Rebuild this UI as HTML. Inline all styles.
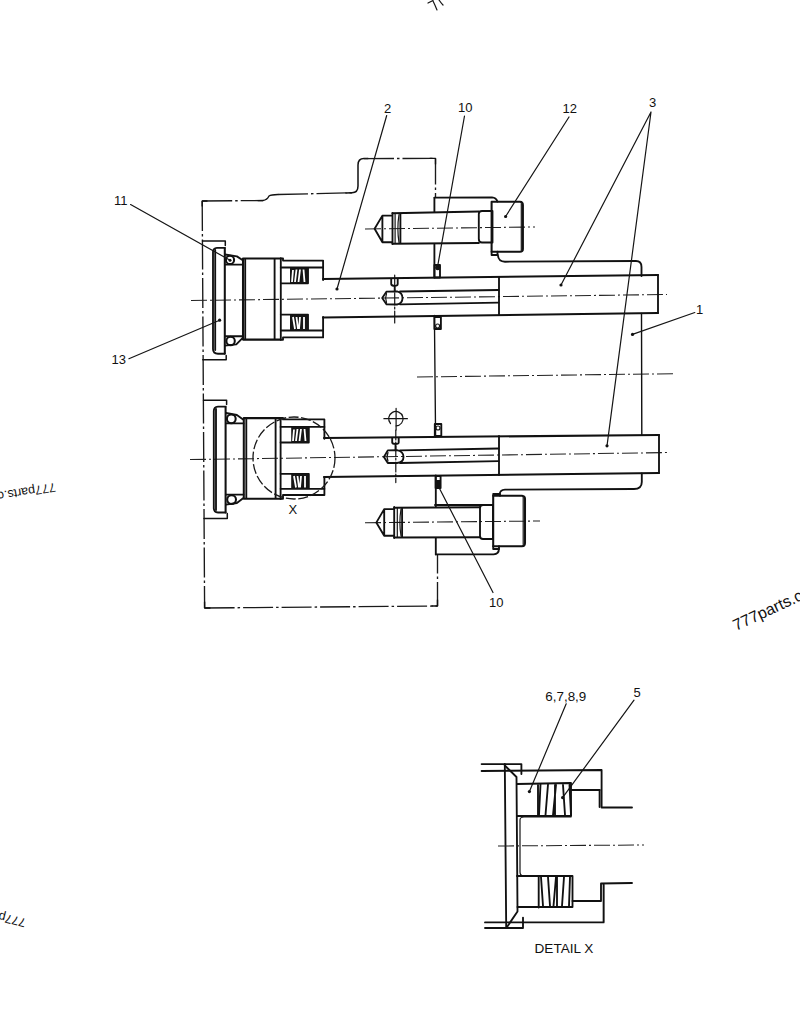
<!DOCTYPE html>
<html><head><meta charset="utf-8">
<style>
html,body{margin:0;padding:0;background:#fff;width:800px;height:1035px;overflow:hidden}
svg{display:block;position:absolute;left:0;top:0}
text{font-family:"Liberation Sans",sans-serif;fill:#111}
.l{fill:none;stroke:#111;stroke-width:1.85;stroke-linejoin:round;stroke-linecap:round}
.t{fill:none;stroke:#151515;stroke-width:1.2;stroke-linecap:round}
.h{fill:none;stroke:#111;stroke-width:2.05;stroke-linejoin:round;stroke-linecap:round}
.c{fill:none;stroke:#222;stroke-width:1.05;stroke-dasharray:16 3 2 3}
.d{fill:none;stroke:#1a1a1a;stroke-width:1.35;stroke-dasharray:30 3 2.5 3}
.dash{fill:none;stroke:#1a1a1a;stroke-width:1.3;stroke-dasharray:10 2.5}
.lb{font-size:13px}
</style></head>
<body>
<svg width="800" height="1035" viewBox="0 0 800 1035">
<!-- watermarks -->
<g id="wm">
<path class="t" d="M428,3 L433,0.5 M433,1 Q435,5 437,10 M439,0 Q441,3 443,5"/>
<text x="0" y="0" font-size="12.5" transform="translate(55,483) rotate(171)">777parts.com</text>
<text x="0" y="0" font-size="16" transform="translate(736,631) rotate(-25)">777parts.com</text>
<text x="0" y="0" font-size="12.5" transform="translate(26.5,919) rotate(194)">777parts.com</text>
</g>

<!-- housing outline dash-dot -->
<path class="d" d="M202.2,201 L204.6,608"/>
<path class="d" d="M202.2,201 L263,200.5"/>
<path class="l" style="stroke-width:1.4" d="M202.2,206 L202.2,201 L207,201 M258,200.6 L263,200.5 Q267,200 269,196 Q271,194.6 278,194.5"/>
<path class="d" d="M278,194.5 L352,192.8"/>
<path class="l" style="stroke-width:1.5" d="M346,193 L352,192.8 Q358,192.6 358,186 L358,165 Q358,158.6 364,158.6 L368,158.6"/>
<path class="d" d="M364,158.6 L435.5,158.4"/>
<path class="d" d="M435.5,158.4 L435.5,197" style="stroke-dasharray:26 3 2.5 3"/>
<path class="l" style="stroke-width:1.4" d="M430,158.4 L435.5,158.4 L435.5,164"/>
<path class="d" d="M204.6,608 L437.5,606"/>
<path class="d" d="M437.5,606 L437.5,555" style="stroke-dasharray:24 3 2.5 3"/>
<path class="l" style="stroke-width:1.4" d="M204.6,602 L204.6,608 L210,608 M432,606 L437.5,606 L437.5,600"/>
<!-- brackets -->
<path class="l" style="stroke-width:1.5" d="M202.5,241.1 L225.3,241.1 L225.3,245.5 M202.8,359.8 L226.2,359.8 L226.2,355.6"/>
<path class="l" style="stroke-width:1.5" d="M203.5,400.3 L226.6,400.3 L226.6,404.4 M204,518.4 L227.3,518.4 L227.3,513.5"/>

<!-- center lines -->
<path class="c" d="M191,300.5 L667,294.5"/>
<path class="c" d="M190,459.6 L670,452.5"/>
<path class="c" d="M417,377 L673,373.7"/>
<path class="c" d="M365,229 L535,227"/>
<path class="c" d="M365,522.8 L540,521"/>
<path class="t" d="M394.7,275 L394.7,323.8" stroke-dasharray="12 2 2 2"/>
<path class="t" d="M395.8,430 L395.8,482.6" stroke-dasharray="10 2 2 2"/>

<!-- ===== UPPER ASSEMBLY ===== -->
<path class="h" d="M224.8,248 L224.8,353.6"/>
<path class="l" d="M224.8,247.8 L217,247.8 Q213,248 213,252 L213,349 Q213,353.7 218,353.7 L224.8,353.7"/>
<path class="l" d="M215.2,250 L215.2,350"/>
<circle class="h" cx="230" cy="259.9" r="4.1"/>
<circle cx="230" cy="260.2" r="1.5" fill="#111"/>
<circle class="h" cx="230.6" cy="341" r="4.2"/>
<path class="l" d="M225,254.5 L236.9,256.4 L242.8,260.2 M225,264.6 L243,264.6"/>
<path class="l" d="M225,345.6 L236.3,344.4 L242,338.6 M225,336.2 L242.5,336.2"/>
<path class="h" d="M243,258.5 L280.7,258.5 M243,339.6 L280.7,339.6 M243,258.5 L243,339.6"/>
<path class="l" d="M245.2,259.5 L245.2,339 M274.6,259 L274.6,339 M280.8,258.5 L280.8,339.6"/>
<path class="l" d="M280.8,258.3 L283,258.3 L283,260.6 L323.1,260.6 L323.1,280"/>
<path class="l" d="M280.8,339.8 L283,339.8 L283,337.4 L323.1,337.4 L323.1,317"/>
<path class="l" d="M280.8,267.5 L323.1,267.5 M280.8,330.5 L323.1,330.5 M280.8,283.3 L308,283.3 L308,267.5 M280.8,314.6 L308,314.6 L308,330.5"/>
<rect x="290" y="267.5" width="18" height="15.8" fill="#151515"/>
<rect x="290" y="314.6" width="18" height="15.9" fill="#151515"/>
<path stroke="#fff" stroke-width="1.8" d="M293,270 L292,282 M296.5,269.5 L295,282 M300,269.5 L298.5,282 M303.5,269.5 L304.5,282 M293,317 L295,329 M296.5,317 L298,329 M300,317 L299,329 M304,317 L304,329"/>
<!-- shaft top/bottom -->
<path class="h" d="M323,279 L658,275"/>
<path class="h" d="M323,317.5 L658,313"/>
<path class="l" d="M658,275 L658,313"/>
<path class="l" d="M499,277 L499,315"/>
<!-- slot -->
<path class="l" d="M382.2,298 L386.6,291.6 L397,291.3 Q402.5,292.5 402.5,298 Q402.5,303.5 397,304.5 L386.6,304.4 Z"/>
<path class="t" d="M386.5,293.5 Q384.8,298 386.5,302.5"/>
<path class="l" d="M400,291.5 L498.5,290 M400,304.3 L498.5,302.6"/>
<path class="l" d="M391.2,279 L391.2,284 Q391.5,285.8 394.7,285.8 Q397.7,285.8 397.7,284 L397.7,279 M394.7,285.8 L394.7,291.5"/>
<!-- seals on plate -->
<path class="l" d="M434.4,198 L434.4,212 M434.4,244.5 L434.4,277.5"/>
<path class="l" style="stroke-width:1.35" d="M434.4,315.5 L435.6,437"/>
<rect class="l" x="434.4" y="265" width="5.6" height="12.5"/>
<circle cx="437.7" cy="267.6" r="2.6" fill="#151515"/>
<rect class="l" x="434.4" y="317" width="6.5" height="12"/>
<circle class="t" cx="437.6" cy="326" r="2"/>
<rect class="l" x="434.8" y="424" width="6.5" height="12"/>
<circle class="t" cx="438" cy="428" r="2"/>
<!-- upper bolt -->
<path class="l" d="M434.4,197.6 L492,197.4 Q496,197.6 497.5,201.6"/>

<path class="h" d="M392.5,213.2 L478.8,211.6 M392.5,243.8 L478.8,243"/>
<path class="l" d="M374.6,228.7 L382.4,215.6 L382.4,242.2 Z M382.4,215.6 L392.5,215.6 M382.4,242.2 L392.5,242.2 M392.5,213 L392.5,244 M400.4,214 L400.4,243"/>
<path class="t" d="M395.1,214 L395.1,243 M399,214.5 Q396.8,228.7 399,242.5"/>
<path class="l" d="M482,211 L492.5,211 L492.5,242.5 L482,242.5 Q478.8,242.5 478.8,239 L478.8,214 Q478.8,211 482,211"/>
<path class="h" d="M491.6,201.8 L520,201.8 Q522.9,202 522.9,205 L522.9,249 Q522.9,251.7 520,251.7 L491.6,251.7 Z"/>
<path class="t" d="M521.3,203.5 L521.3,250"/>
<path class="l" d="M491.6,251.7 L491.6,255 L497.5,255 L497.5,251.7"/>
<!-- housing line 1 -->
<path class="l" d="M497.8,255 Q498.5,261.7 505,261.7 L636,261 Q641.5,261 641.5,267 L641.5,276"/>
<path class="l" style="stroke-width:1.4" d="M641.5,313.5 L641.8,435"/>
<path class="l" d="M641.8,473.5 L641.8,482 Q641.8,489 634,489 L505,489.6 Q500,490 499.7,494"/>

<!-- ===== LOWER ASSEMBLY ===== -->
<path class="h" d="M225.6,407 L225.6,512.4"/>
<path class="l" d="M225.6,406.6 L218,406.6 Q213.8,407 213.8,411 L213.8,508 Q213.8,512.5 218,512.5 L225.6,512.5"/>
<path class="l" d="M216,409 L216,510"/>
<circle class="h" cx="231.3" cy="418.8" r="4.4"/>
<circle class="h" cx="231.6" cy="499.6" r="4.4"/>
<path class="l" d="M226,413 L236.9,415 L243.1,419.4 M226,423.4 L243.5,423.4"/>
<path class="l" d="M226,504.6 L236.9,503 L243.1,498.2 M226,494.6 L243.5,494.6"/>
<path class="h" d="M243.8,418.1 L280.6,418.1 M243.8,498.8 L280.6,498.8 M243.8,418.1 L243.8,498.8"/>
<path class="l" d="M246.3,419 L246.3,498 M275.6,419 L275.6,498 M280.6,418.1 L280.6,498.8"/>
<path class="l" d="M280.6,418 L283,418 L283,419.4 L324.4,419.4 L324.4,438.7"/>
<path class="l" d="M280.6,498.8 L283,498.8 L283,495 L324.4,495 L324.4,476.9"/>
<path class="l" d="M280.6,426.9 L324.4,426.9 M280.6,488.8 L324.4,488.8 M280.6,442.5 L308.8,442.5 L308.8,426.9 M280.6,473.8 L308.8,473.8 L308.8,488.8"/>
<rect x="291.2" y="426.9" width="17.6" height="15.6" fill="#151515"/>
<rect x="291.2" y="473.8" width="17.6" height="15" fill="#151515"/>
<path stroke="#fff" stroke-width="1.8" d="M294,429.5 L293,441 M297.5,429 L296,441 M301,429 L299.5,441 M304.5,429 L305.5,441 M294,476 L296,487.5 M297.5,476 L299,487.5 M301,476 L300,487.5 M305,476 L305,487.5"/>
<path class="h" d="M324,438 L659,435"/>
<path class="h" d="M324,477 L659,473"/>
<path class="l" d="M659,435 L659,473"/>
<path class="l" d="M499,436 L499,475"/>
<path class="l" d="M383.9,457 L387.8,450.4 L397,450.2 Q403.5,451.5 403.5,457 Q403.5,462.5 397,463 L387.8,463 Z"/>
<path class="t" d="M388,452.5 Q386.2,457 388,461"/>
<path class="l" d="M400,450.3 L498.5,448.5 M400,463 L498.5,461.2"/>
<path class="l" d="M392.2,438 L392.2,442.5 Q392.5,444 395.5,444 Q398.7,444 398.7,442.5 L398.7,438 M395.5,444 L395.5,450.3"/>
<circle class="dash" cx="294" cy="458" r="41"/>
<path class="t" d="M390.5,423.5 A7.2,7.2 0 1,1 396.1,425.9"/>
<path class="t" d="M396.1,408.3 L396.1,430 M383.9,418.7 L407.4,418.7"/>
<!-- lower plate seals -->
<path class="l" d="M435.8,475.5 L435.8,507 M435.8,538 L435.8,554.4"/>
<rect class="l" x="435.6" y="476" width="5" height="12"/>
<rect x="436.1" y="480" width="4" height="8" fill="#111"/>
<!-- lower bolt -->
<path class="l" d="M435,505 L493,505 M435.8,554.4 L493.6,554.4 Q498.9,554 498.9,549"/>
<path class="h" d="M394.2,507.7 L480,507.3 M394.2,537.6 L480,537.3"/>
<path class="l" d="M376.3,522.6 L384.2,509.1 L384.2,535.7 Z M384.2,509.1 L394.2,509.1 M384.2,535.7 L394.2,535.7 M394.2,507 L394.2,538 M402.1,508 L402.1,537"/>
<path class="t" d="M397.3,508 L397.3,537 M401,509 Q398.8,522.6 401,536"/>
<path class="l" d="M483,505 L493,505 L493,539 L483,539 Q480,539 480,536 L480,508 Q480,505 483,505"/>
<path class="h" d="M493.2,495.7 L522,495.7 Q525,496 525,499 L525,543 Q525,546.2 522,546.2 L493.2,546.2 Z"/>
<path class="t" d="M523.2,497.5 L523.2,544.5"/>
<path class="l" d="M493.2,495.7 L493.2,494 L500,494 L500,495.7 M493.2,546.2 L493.2,549 L499,549 L499,546.2"/>

<!-- leaders -->
<path class="t" d="M386.7,115.5 L337,289"/>
<path class="t" d="M464.5,116 L437.5,267"/>
<path class="t" d="M569,117 L505.6,216.5"/>
<path class="t" d="M651,112 L561,285 M651,112 L607,445.8"/>
<path class="t" d="M130.6,204.6 L229.6,260"/>
<path class="t" d="M128.9,358.7 L219.6,320.2"/>
<path class="t" d="M694.8,312.5 L632.5,334.4"/>
<path class="t" d="M493,592.5 L439,487.5"/>
<g fill="#111">
<circle cx="337" cy="289" r="1.6"/><circle cx="505.6" cy="216.5" r="1.6"/>
<circle cx="561" cy="285" r="1.6"/><circle cx="607" cy="445.8" r="1.6"/>
<circle cx="219.6" cy="320.2" r="1.6"/><circle cx="632.5" cy="334.4" r="1.6"/>
<circle cx="529.4" cy="791.6" r="1.6"/><circle cx="562.6" cy="797.6" r="1.6"/>
</g>

<!-- labels -->
<text class="lb" x="384" y="112.5">2</text>
<text class="lb" x="458" y="111.7">10</text>
<text class="lb" x="562.5" y="113">12</text>
<text class="lb" x="649" y="107.4">3</text>
<text class="lb" x="114" y="204.6">11</text>
<text class="lb" x="111.5" y="364.3">13</text>
<text class="lb" x="696" y="313.7">1</text>
<text class="lb" x="288.5" y="514">X</text>
<text class="lb" x="489" y="607">10</text>
<text x="545.3" y="701.4" font-size="13.4">6,7,8,9</text>
<text class="lb" x="633.5" y="697">5</text>
<text x="534.5" y="952.6" font-size="13.6">DETAIL X</text>

<!-- ===== DETAIL X ===== -->
<path class="t" d="M566.2,703.8 L529.4,791.6 M634,700.2 L562.6,797.6"/>
<path class="l" d="M481.6,764.1 L521.4,764.1 L521.4,774"/>
<path class="l" d="M481.6,771 L601.6,770 L601.6,807.5 L632,807.5"/>
<path class="l" d="M599.6,790 L599.6,807"/>
<path class="l" d="M504.8,764 L506.2,927"/>
<path class="l" d="M504.8,765.5 L516.5,777 L517.5,911.5 L507,927"/>
<path class="l" d="M517,784 L571,783 L571,815.4 M538,784 L538,816"/>
<path class="l" d="M571,790 L599.6,790"/>
<path class="l" d="M517,816 L571,816"/>
<path class="t" d="M520,820 Q520,817 524,817 L571,817 M520,820 L520,872 Q520,876 524,876 L572,876"/>
<path class="l" d="M540.5,784.5 L539,815 M548,784.5 L545.5,815 M555,785 L555,815 M556,785 L553,815 M563,785 L565,815 M569.5,785 L571,815"/>
<path class="l" d="M517,876 L572.5,876 L572.5,907 L517.5,907 M538.7,876 L538.7,907.6"/>
<path class="l" d="M541,877 L543,906 M548,877 L550,906 M556,877 L553.5,906 M557,877 L557,906 M564,877 L562,906 M570,877 L569,906"/>
<path class="l" d="M572.5,901 L601,901 L601,883.5 L632,883"/>
<path class="t" d="M603.6,885 L603.6,922"/>
<path class="l" d="M485,922.4 L603.6,922.4 L603.6,884"/>
<path class="l" d="M485,928 L523,928 L523,917.6"/>
<path class="c" d="M498,846 L644,845"/>
</svg>
</body></html>
